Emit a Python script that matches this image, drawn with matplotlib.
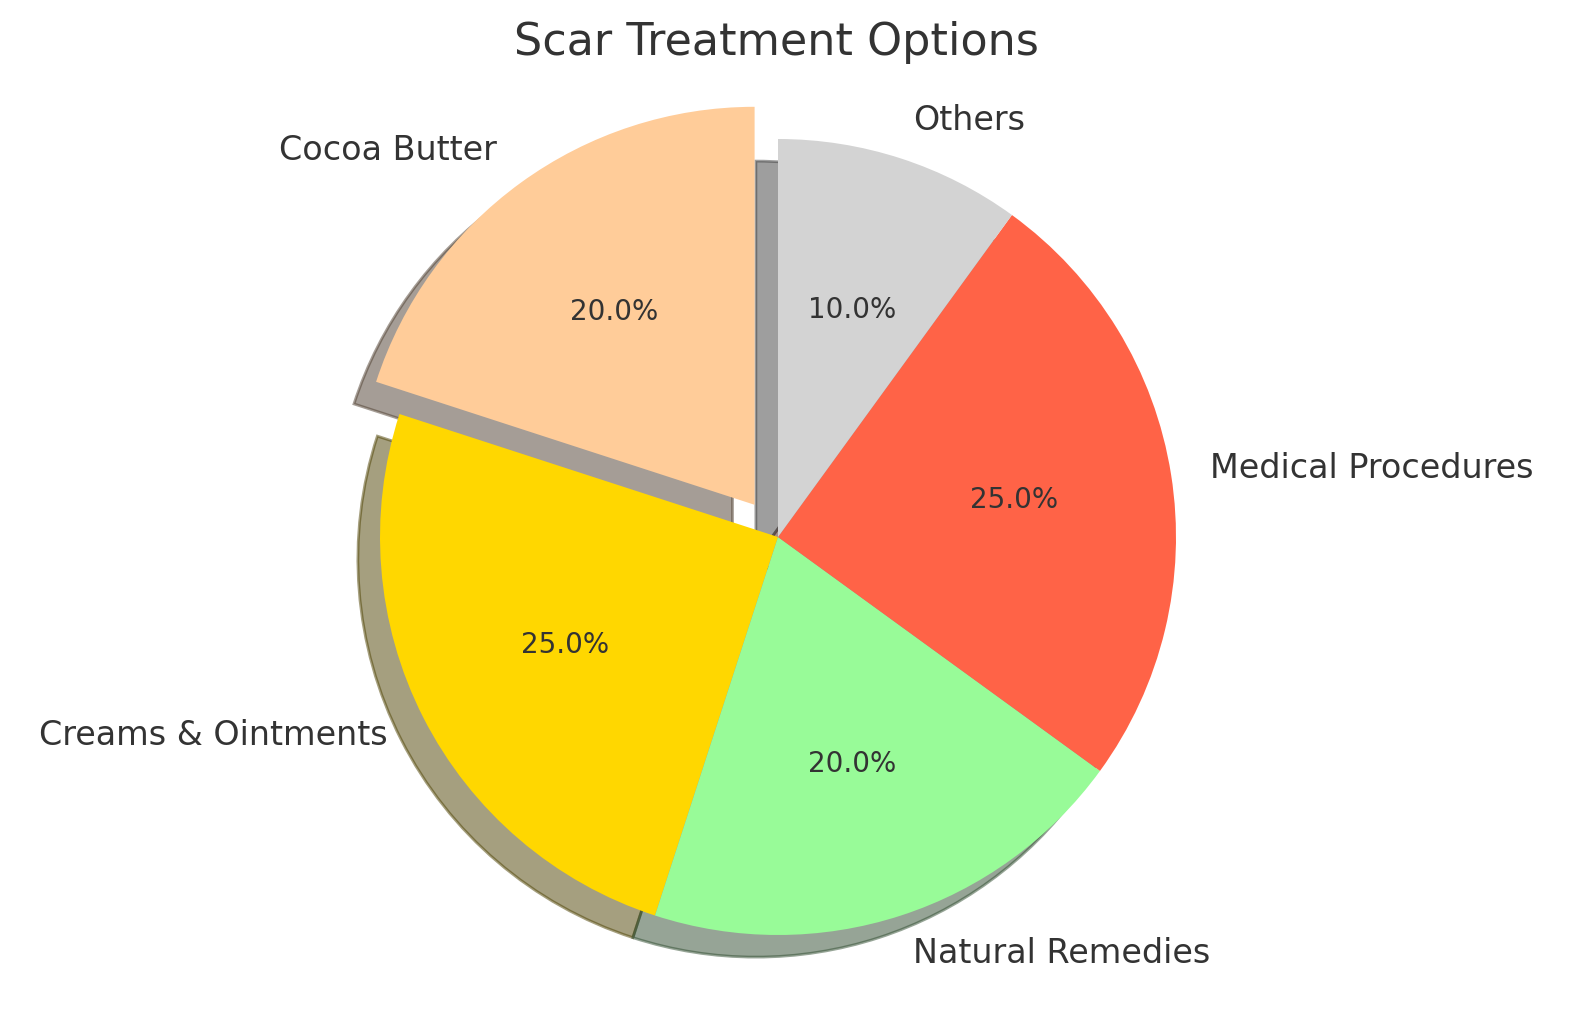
import matplotlib
matplotlib.use("Agg")
import matplotlib.pyplot as plt

treatments = ['Cocoa Butter', 'Creams & Ointments', 'Natural Remedies',
              'Medical Procedures', 'Others']
shares = [20, 25, 20, 25, 10]
slice_colors = ['#ffcc99', '#ffd700', '#98fb98', '#ff6347', '#d3d3d3']
explode = [0.1, 0, 0, 0, 0]

W, H, DPI = 1589, 1014, 200
cx, cy, r = 778, 537, 398  # pie centre / radius in pixels

fig = plt.figure(figsize=(W / DPI, H / DPI), dpi=DPI)
ax = fig.add_axes([0, 0, 1, 1])

wedges, texts, autotexts = ax.pie(
    shares,
    labels=treatments,
    colors=slice_colors,
    explode=explode,
    autopct='%1.1f%%',
    startangle=90,
    shadow=True,
    textprops={'color': '#333333', 'fontsize': 12},
)
for t in autotexts:
    t.set_fontsize(10)

ax.set_aspect('auto')
ax.set_xlim(-cx / r, (W - cx) / r)
ax.set_ylim(-(H - cy) / r, cy / r)
ax.axis('off')

fig.text(776 / W, 1 - 55 / H, 'Scar Treatment Options', fontsize=16,
         color='#333333', ha='center', va='baseline')

fig.savefig('out.png', dpi=DPI, facecolor='white')
